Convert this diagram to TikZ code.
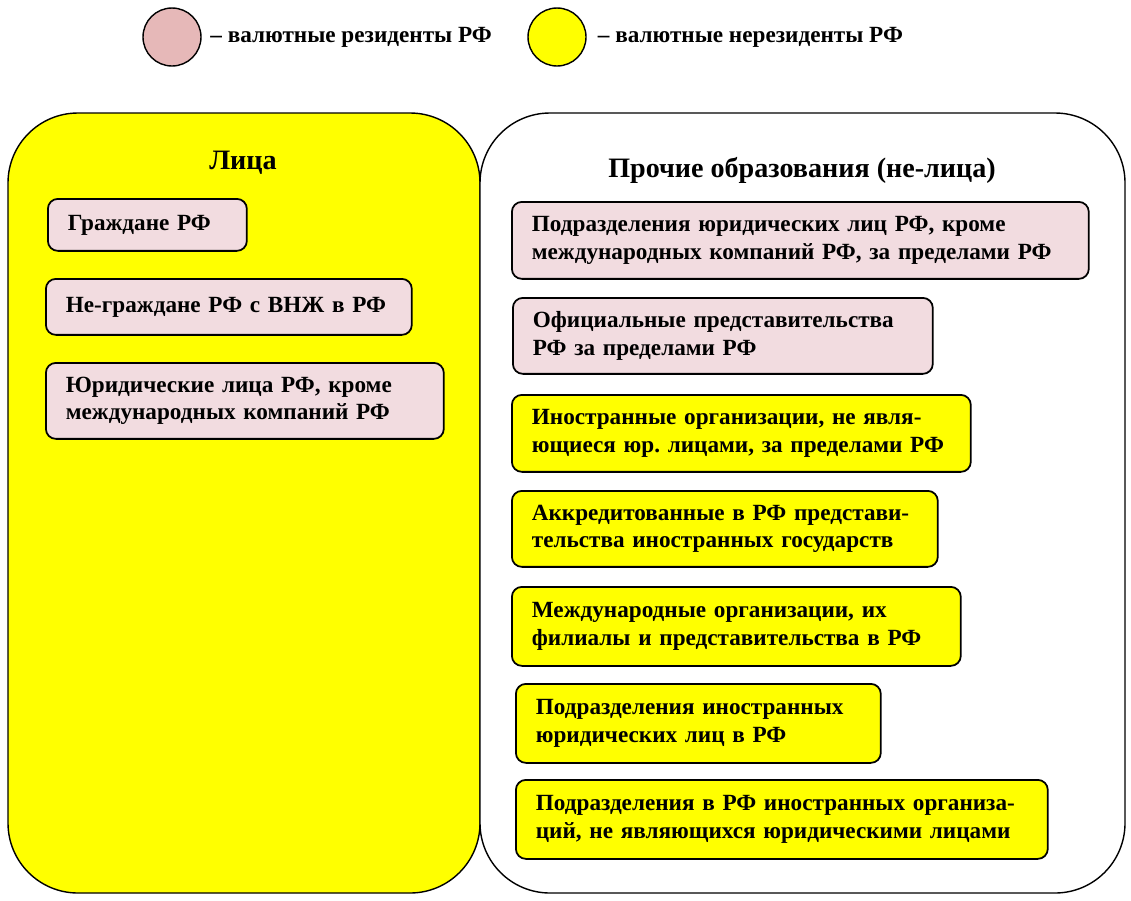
\documentclass[tikz,border=0pt]{standalone}
\usepackage{fontspec}
\setmainfont{Liberation Serif}
\usetikzlibrary{positioning}
\definecolor{respink}{RGB}{242,220,224}
\definecolor{legpink}{RGB}{230,184,184}
\definecolor{nonyel}{RGB}{255,255,0}
\tikzset{
  cell/.style={draw=black, line width=1pt, rounded corners=0.2cm, anchor=north west,
    inner xsep=0.4cm, align=left, font=\fontsize{13.2}{15.5}\selectfont\bfseries},
  bigbox/.style={draw=black, line width=0.8pt, rounded corners=1.4cm},
  legdot/.style={circle, draw=black, line width=0.8pt, minimum size=1.16cm}
}
\frenchspacing
\begin{document}
\begin{tikzpicture}[x=0.02cm,y=-0.02cm]
\useasboundingbox (0,0) rectangle (1131,900);
%legend
\node[legdot, fill=legpink] (res) at (172,37) {};
\node[right=0.05cm of res, font=\fontsize{13.2}{15}\selectfont\bfseries] (restext) {– валютные резиденты РФ};
\node[legdot, fill=nonyel] (nonres) at (557,37) {};
\node[right=0.1cm of nonres, font=\fontsize{13.2}{15}\selectfont\bfseries] (nonrestext) {– валютные нерезиденты РФ};
%big boxes
\draw[bigbox, fill=nonyel] (8,113) rectangle (480,893);
\draw[bigbox, fill=white] (480,113) rectangle (1125,893);
\node[font=\fontsize{16}{19}\selectfont\bfseries] (persons) at (243,163) {Лица};
\node[font=\fontsize{16}{19}\selectfont\bfseries] (others) at (802,170) {Прочие образования (не-лица)};
%left column
\node[cell, fill=respink, minimum height=1.04cm, text width=3.18cm] (citizens) at (47,198) {Граждане РФ};
\node[cell, fill=respink, minimum height=1.12cm, text width=6.52cm] (noncitizens) at (45,278) {Не-граждане РФ с ВНЖ в РФ};
\node[cell, fill=respink, minimum height=1.52cm, text width=7.16cm] (legal) at (45,362) {Юридические лица РФ, кроме\\международных компаний РФ};
%right column
\node[cell, fill=respink, minimum height=1.54cm, text width=10.74cm] (branches) at (511,201) {Подразделения юридических лиц РФ, кроме\\международных компаний РФ, за пределами РФ};
\node[cell, fill=respink, minimum height=1.52cm, text width=7.6cm] (offices) at (512,297) {Официальные представительства\\РФ за пределами РФ};
\node[cell, fill=nonyel, minimum height=1.54cm, text width=8.38cm] (foreignorg) at (511,394) {Иностранные организации, не явля-\\ющиеся юр. лицами, за пределами РФ};
\node[cell, fill=nonyel, minimum height=1.52cm, text width=7.72cm] (embassies) at (511,490) {Аккредитованные в РФ представи-\\тельства иностранных государств};
\node[cell, fill=nonyel, minimum height=1.58cm, text width=8.18cm] (intlorg) at (511,586) {Международные организации, их\\филиалы и представительства в РФ};
\node[cell, fill=nonyel, minimum height=1.58cm, text width=6.5cm] (foreignbr) at (515,683) {Подразделения иностранных\\юридических лиц в РФ};
\node[cell, fill=nonyel, minimum height=1.58cm, text width=9.84cm] (foreignsub) at (515,779) {Подразделения в РФ иностранных организа-\\ций, не являющихся юридическими лицами};
\end{tikzpicture}
\end{document}
